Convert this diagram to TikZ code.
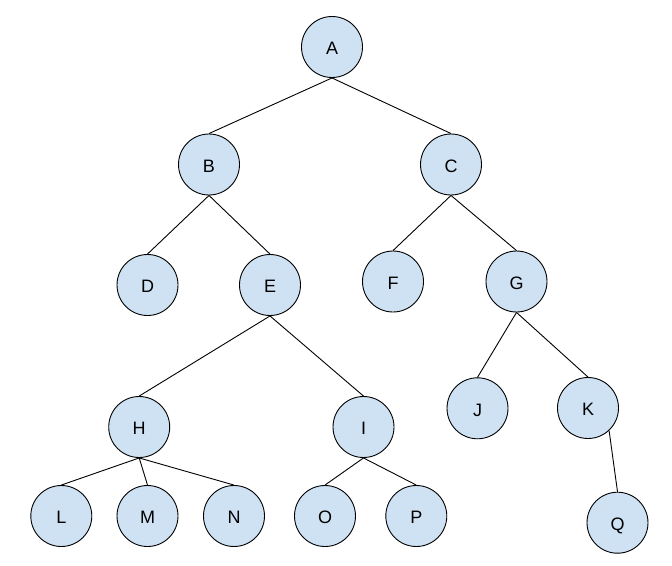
\documentclass[tikz,border=0pt]{standalone}
\usepackage{fontspec}
\setmainfont{Liberation Sans}
\definecolor{nodefill}{RGB}{207,226,243}
\begin{document}
\begin{tikzpicture}[x=1pt,y=-1pt,
  treenode/.style={circle,draw=black,fill=nodefill,line width=0.9pt,minimum size=61pt,inner sep=0pt,text height=15.5pt,text depth=0pt,font=\fontsize{18}{20}\selectfont},
  edge/.style={draw=black,line width=0.9pt}]
\useasboundingbox (0,0) rectangle (672,565);
\node[treenode] (A) at (332,47) {A};
\node[treenode] (B) at (209,164.5) {B};
\node[treenode] (C) at (451,164.5) {C};
\node[treenode] (D) at (147.5,285) {D};
\node[treenode] (E) at (270,285) {E};
\node[treenode] (F) at (393,281.5) {F};
\node[treenode] (G) at (516.5,281.5) {G};
\node[treenode] (H) at (139.2,427) {H};
\node[treenode] (I) at (363.5,427) {I};
\node[treenode] (J) at (477.5,408.3) {J};
\node[treenode] (K) at (588,408) {K};
\node[treenode] (L) at (61.3,516) {L};
\node[treenode] (M) at (147.5,516) {M};
\node[treenode] (N) at (234,516) {N};
\node[treenode] (O) at (325,516) {O};
\node[treenode] (P) at (416.3,516) {P};
\node[treenode] (Q) at (617.5,522.7) {Q};
\foreach \p/\c in {A/B,A/C,B/D,B/E,C/F,C/G,E/H,E/I,G/J,G/K,H/L,H/M,H/N,I/O,I/P}
  \draw[edge] (\p.south) -- (\c.north);
\draw[edge] (K.-47) -- (Q.north);
\end{tikzpicture}
\end{document}
